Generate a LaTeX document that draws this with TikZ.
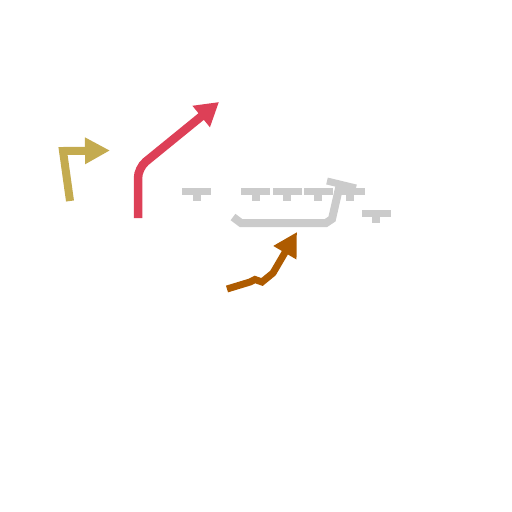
\documentclass[tikz,border=0pt]{standalone}
\usetikzlibrary{arrows.meta}
\definecolor{goldc}{HTML}{C4AB4F}
\definecolor{redc}{HTML}{DD4057}
\definecolor{brownc}{HTML}{AE5B00}
\definecolor{grayc}{HTML}{CBCBCB}
\begin{document}
\begin{tikzpicture}[
        x=1pt, y=-1pt,
        gold_arrow/.style={draw=goldc, line width=8pt, -{Triangle[length=25pt, width=25pt]}},
        red_arrow/.style={draw=redc, line width=8.5pt, rounded corners=10pt, -{Triangle[length=23pt, width=26pt]}},
        brown_arrow/.style={draw=brownc, line width=7pt, -{Triangle[length=24pt, width=25pt]}},
        gray_road/.style={draw=grayc, line width=8pt},
        gray_tee/.style={fill=grayc}
    ]
        \useasboundingbox (0,0) rectangle (512,512);

        % Gold turn arrow
        \coordinate (gold_start) at (70,201);
        \coordinate (gold_bend) at (63,151);
        \coordinate (gold_tip) at (110,150.5);
        \draw[gold_arrow] (gold_start) -- (gold_bend) -- (gold_tip);

        % Red arrow with rounded bend
        \coordinate (red_start) at (138,218);
        \coordinate (red_bend) at (138,168);
        \coordinate (red_tip) at (219,102);
        \draw[red_arrow] (red_start) -- (red_bend) -- (red_tip);

        % Brown arrow
        \coordinate (brown_start) at (227,289);
        \coordinate (brown_a) at (250,282);
        \coordinate (brown_b) at (255,279.5);
        \coordinate (brown_c) at (262,282);
        \coordinate (brown_d) at (273,273);
        \coordinate (brown_tip) at (297,232);
        \draw[brown_arrow] (brown_start) -- (brown_a) -- (brown_b) -- (brown_c) -- (brown_d) -- (brown_tip);

        % Gray road ending in a bar
        \coordinate (road_start) at (233,217);
        \coordinate (road_a) at (241,223);
        \coordinate (road_b) at (326,223);
        \coordinate (road_c) at (332,219);
        \coordinate (road_end) at (340,184);
        \coordinate (bar_left) at (327,181);
        \coordinate (bar_right) at (356,188);
        \draw[gray_road] (road_start) -- (road_a) -- (road_b) -- (road_c) -- (road_end);
        \draw[gray_road, line width=7pt] (bar_left) -- (bar_right);

        % Gray tee marks
        \foreach \x/\y in {196.5/188, 255.5/188, 287/188, 318/188, 350/188, 376/210}
        {
            \fill[gray_tee] (\x-14.5,\y) rectangle (\x+14.5,\y+7);
            \fill[gray_tee] (\x-4,\y+7) rectangle (\x+4,\y+13);
        }

    \end{tikzpicture}
\end{document}
